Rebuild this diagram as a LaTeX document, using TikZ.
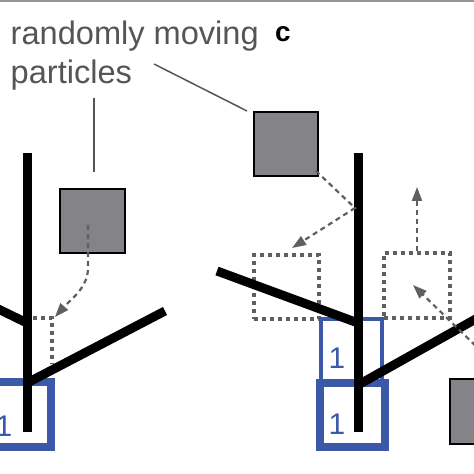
\documentclass[tikz,border=0pt]{standalone}
\usepackage{fontspec}
\setmainfont{Liberation Sans}
\usetikzlibrary{positioning,arrows.meta}
\definecolor{siteblue}{RGB}{60,88,168}
\definecolor{dotgray}{RGB}{95,95,95}
\definecolor{textgray}{RGB}{85,85,85}
\definecolor{particlegray}{RGB}{132,132,136}
\definecolor{bandgray}{RGB}{150,150,150}
\begin{document}
\begin{tikzpicture}[x=1bp, y=-1bp,
			% grey particle with black border
			particlenode/.style={rectangle, draw=black, line width=1.5bp, fill=particlegray, minimum width=64bp, minimum height=64bp, inner sep=0pt},
			% blue lattice site
			sitebox/.style={rectangle, draw=siteblue, line width=8bp, inner sep=0pt},
			% dotted square: where a particle may land
			ghostbox/.style={rectangle, draw=dotgray, line width=3.5bp, dash pattern=on 4bp off 4bp, inner sep=0pt},
			% thick black fibre
			fibre/.style={line width=9bp, line cap=butt},
			% dashed hop of a particle
			hop/.style={draw=dotgray, line width=2.2bp, dash pattern=on 5bp off 4bp, -{Triangle[length=14bp, width=10bp]}},
			leader/.style={draw=textgray, line width=1.5bp},
			sitelabel/.style={text=siteblue, inner sep=0pt, font=\fontsize{30}{30}\selectfont},
			point/.style={coordinate}
		]
		\useasboundingbox (0,0) rectangle (474,474);
		\clip (0,0) rectangle (474,474);
		\fill[bandgray] (0,0) rectangle (474,2.5);

		%Ghosts
		\node[ghostbox, minimum width=65bp, minimum height=64bp]   (lghost)   at (286.5,287)   {};
		\node[ghostbox, minimum width=66bp, minimum height=65bp]   (rghost)   at (417,285.5)   {};
		\coordinate (gA) at (33,318);
		\coordinate (gB) at (52,318);
		\coordinate (gC) at (52,364);
		\draw[draw=dotgray, line width=3.5bp, dash pattern=on 4bp off 4bp] (gA) -- (gB) -- (gC);

		%Sites
		\node[sitebox, minimum width=65bp, minimum height=65bp]      (site0)    at (18.5,414.5)   {};
		\node[sitebox, minimum width=64.5bp, minimum height=64.5bp]  (site1)    at (352.25,414.75) {};
		\node[sitebox, line width=4bp, minimum width=61bp, minimum height=62.5bp] (site2) at (351.5,350) {};
		\node[sitelabel, anchor=east]   (one0)   at (12.5,426)   {1};
		\node[sitelabel]                (one1)   at (337,424)    {1};
		\node[sitelabel]                (one2)   at (337,358)    {1};

		%Fibres
		\node[point] (ltop)   at (27,153)  {};
		\node[point] (lroot)  at (27,432)  {};
		\node[point] (lfork)  at (27,323)  {};
		\node[point] (lbase)  at (27,383)  {};
		\node[point] (lleft)  at (-12,304) {};
		\node[point] (ltip)   at (165,311) {};
		\node[point] (rtop)   at (358,153) {};
		\node[point] (rroot)  at (358,432) {};
		\node[point] (rfork)  at (358,323) {};
		\node[point] (rbase)  at (358,385) {};
		\node[point] (rleft)  at (217,271) {};
		\node[point] (rright) at (490,311) {};
		\draw[fibre] (ltop)  -- (lroot);
		\draw[fibre] (lleft) -- (lfork);
		\draw[fibre] (lbase) -- (ltip);
		\draw[fibre] (rtop)  -- (rroot);
		\draw[fibre] (rleft) -- (rfork);
		\draw[fibre] (rbase) -- (rright);

		%Particles
		\node[particlenode, minimum width=65bp]  (p1)   at (92.5,221)   {};
		\node[particlenode]                      (p2)   at (286,144)    {};
		\node[particlenode, minimum height=65bp] (p3)   at (482,411.5)  {};

		%Hops
		\node[point] (hAstart) at (88,225) {};
		\node[point] (hAend)   at (55,317) {};
		\draw[hop] (hAstart) -- (88,268) .. controls (88,288) and (70,300) .. (hAend);
		\node[point] (hBturn)  at (355,208) {};
		\node[point] (hBend)   at (292,248) {};
		\draw[hop] (p2.south east) ++(-3,-6) -- (hBturn) -- (hBend);
		\node[point] (hCend)   at (417,187) {};
		\draw[hop] (rghost.north) -- (hCend);
		\node[point] (hDstart) at (482,352) {};
		\node[point] (hDend)   at (413,285) {};
		\draw[hop] (hDstart) -- (hDend);

		%Labels
		\node[anchor=north west, align=left, inner sep=0pt, text=textgray, font=\fontsize{32.7}{39}\selectfont] (caption) at (10.5,20.5) {randomly moving\\particles};
		\node[anchor=base west, inner sep=0pt, font=\bfseries\fontsize{28}{30}\selectfont] (panel) at (275,42) {c};
		\node[point] (leadA1) at (94,98)   {};
		\node[point] (leadA2) at (94,172)  {};
		\node[point] (leadB1) at (154,64)  {};
		\node[point] (leadB2) at (247,111) {};
		\draw[leader] (leadA1) -- (leadA2);
		\draw[leader] (leadB1) -- (leadB2);
	\end{tikzpicture}
\end{document}
